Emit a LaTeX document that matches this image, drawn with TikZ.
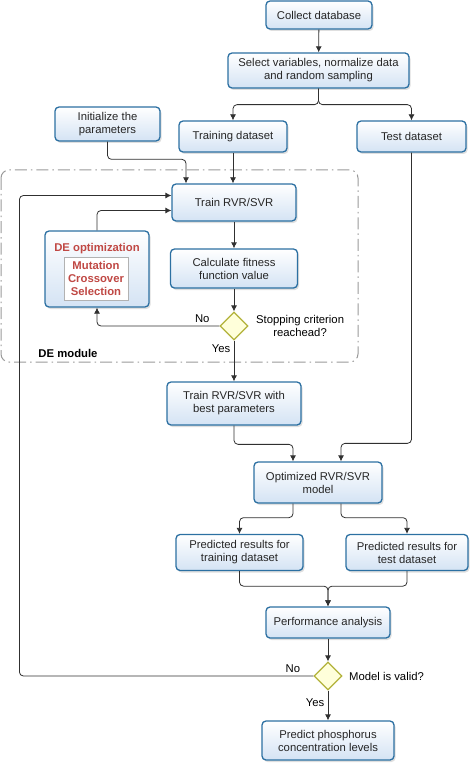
\documentclass[tikz,border=0pt]{standalone}
\usepackage{fontspec}
\setmainfont{Liberation Sans}
\usetikzlibrary{arrows.meta,calc,positioning,shadows,shapes.geometric}
\definecolor{boxline}{RGB}{44,112,162}
\definecolor{boxfill}{RGB}{212,227,244}
\definecolor{decline}{RGB}{178,178,58}
\definecolor{decfill}{RGB}{255,255,218}
\definecolor{optred}{RGB}{192,72,68}
\definecolor{flowgray}{RGB}{48,48,48}
\tikzset{block/.style={draw=boxline,line width=1.3pt,rounded corners=4pt,top color=white,bottom color=boxfill,drop shadow={shadow xshift=1.5pt,shadow yshift=-2pt,opacity=0.25},align=center,inner sep=2pt,text=black!85}}
\tikzset{decision/.style={diamond,draw=decline,line width=1.2pt,fill=decfill,minimum size=28pt,inner sep=0pt}}
\tikzset{flow/.style={draw=flowgray,line width=0.8pt,rounded corners=4pt,-{Latex[length=6pt,width=6pt]}}}
\tikzset{module/.style={draw=gray!80,line width=1pt,rounded corners=8pt,dash pattern=on 12pt off 4pt on 1.5pt off 4pt}}
\newcommand{\flowfont}{\fontsize{11.3}{13}\selectfont}

\begin{document}
\begin{tikzpicture}[x=1pt,y=-1pt,font=\flowfont]
\useasboundingbox (0,0) rectangle (474,767);
% DE module frame
\draw[module](1,170) rectangle (358,362);
\node[font=\flowfont\bfseries](demodule) at (68,353){DE module};
% boxes
\node[block,minimum width=106pt,minimum height=28pt](collect) at (319,15){Collect database};
\node[block,minimum width=181pt,minimum height=35pt](select) at (318.5,70.5){Select variables, normalize data\\and random sampling};
\node[block,minimum width=105pt,minimum height=34pt](init) at (107.5,124){Initialize the\\parameters};
\node[block,minimum width=108pt,minimum height=31pt](training) at (233,136.5){Training dataset};
\node[block,minimum width=109pt,minimum height=31pt](test) at (411.5,136.5){Test dataset};
\node[block,minimum width=124pt,minimum height=37pt](train) at (234,202.5){Train RVR/SVR};
\node[block,minimum width=127pt,minimum height=39pt](fitness) at (234,268.5){Calculate fitness\\function value};
\node[block,minimum width=104pt,minimum height=76pt](de) at (97,269){};
\node[text=optred,font=\flowfont\bfseries](detitle) at (97,249){DE optimization};
\node[draw=gray!60,fill=white,text=optred,font=\flowfont\bfseries,minimum width=64pt,minimum height=43pt,inner sep=1pt,align=center](operators) at (96,278.5){Mutation\\Crossover\\Selection};
\node[decision](stop) at (234,326){};
\node[align=center](stoptext)[right=4pt of stop]{Stopping criterion\\reachead?};
\node[block,minimum width=134pt,minimum height=43pt](best) at (234,403.5){Train RVR/SVR with\\best parameters};
\node[block,minimum width=128pt,minimum height=41pt](opt) at (318,482.5){Optimized RVR/SVR\\model};
\node[block,minimum width=127pt,minimum height=36pt](predtrain) at (239.5,552.5){Predicted results for\\training dataset};
\node[block,minimum width=122pt,minimum height=36pt](predtest) at (407,552.5){Predicted results for\\test dataset};
\node[block,minimum width=124pt,minimum height=31pt](perf) at (328,622.5){Performance analysis};
\node[decision](valid) at (328,676){};
\node(validtext)[right=3pt of valid]{Model is valid?};
\node[block,minimum width=132pt,minimum height=39pt](final) at (328,740.5){Predict phosphorus\\concentration levels};
% connectors
\draw[flow](collect)--(select);
\draw[flow](select.south)--++(0,16)-|(training.north);
\draw[flow](select.south)--++(0,16)-|(test.north);
\draw[flow](init.south)|-($(train.north)+(-48,-24)$)--($(train.north)+(-48,0)$);
\draw[flow](training.south)--(training.south|-train.north);
\draw[flow](train)--(fitness);
\draw[flow](fitness)--(stop);
\draw[flow](stop.west)-|node[pos=0.07,above]{No}(de.south);
\draw[flow](de.north)|-($(train.west)+(0,8)$);
\draw[flow](stop.south)--node[pos=0.2,left]{Yes}(best.north);
\draw[flow](best.south)|-($(opt.north)+(-25,-17)$)--($(opt.north)+(-25,0)$);
\draw[flow](test.south)|-($(opt.north)+(23,-18)$)--($(opt.north)+(23,0)$);
\draw[flow]($(opt.south)+(-25,0)$)--++(0,14)-|(predtrain.north);
\draw[flow]($(opt.south)+(23,0)$)--++(0,14)-|(predtest.north);
\draw[flow](predtrain.south)--++(0,15)-|(perf.north);
\draw[flow](predtest.south)--++(0,15)-|(perf.north);
\draw[flow](perf)--(valid);
\draw[flow](valid.west)--node[pos=0.07,above]{No}++(-294,0)|-($(train.west)+(0,-7)$);
\draw[flow](valid.south)--node[pos=0.4,left]{Yes}(final.north);
\end{tikzpicture}
\end{document}
